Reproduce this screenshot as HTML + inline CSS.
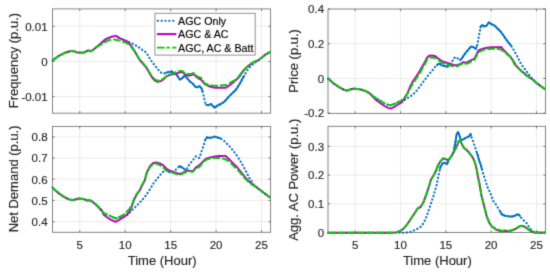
<!DOCTYPE html>
<html><head><meta charset="utf-8"><title>Figure</title>
<style>html,body{margin:0;padding:0;background:#fff;width:550px;height:273px;overflow:hidden}svg{display:block}</style>
</head><body>
<svg width="550" height="273" viewBox="0 0 550 273">
<defs><filter id="sm" x="0" y="0" width="550" height="273" filterUnits="userSpaceOnUse" color-interpolation-filters="sRGB"><feConvolveMatrix order="3" kernelMatrix="1 6 1 6 36 6 1 6 1" divisor="64" edgeMode="duplicate"/></filter></defs>
<g filter="url(#sm)">
<rect width="550" height="273" fill="#fff"/>
<line x1="79.76" y1="8.9" x2="79.76" y2="113.2" stroke="#262626" stroke-opacity="0.11" stroke-width="0.8"/>
<line x1="125.20" y1="8.9" x2="125.20" y2="113.2" stroke="#262626" stroke-opacity="0.11" stroke-width="0.8"/>
<line x1="170.64" y1="8.9" x2="170.64" y2="113.2" stroke="#262626" stroke-opacity="0.11" stroke-width="0.8"/>
<line x1="216.08" y1="8.9" x2="216.08" y2="113.2" stroke="#262626" stroke-opacity="0.11" stroke-width="0.8"/>
<line x1="261.51" y1="8.9" x2="261.51" y2="113.2" stroke="#262626" stroke-opacity="0.11" stroke-width="0.8"/>
<line x1="52.5" y1="26.2" x2="270.6" y2="26.2" stroke="#262626" stroke-opacity="0.11" stroke-width="0.8"/>
<line x1="52.5" y1="61.5" x2="270.6" y2="61.5" stroke="#262626" stroke-opacity="0.11" stroke-width="0.8"/>
<line x1="52.5" y1="96.6" x2="270.6" y2="96.6" stroke="#262626" stroke-opacity="0.11" stroke-width="0.8"/>
<line x1="79.76" y1="113.2" x2="79.76" y2="111.0" stroke="#262626" stroke-opacity="0.62" stroke-width="0.9"/>
<line x1="79.76" y1="8.9" x2="79.76" y2="11.100000000000001" stroke="#262626" stroke-opacity="0.62" stroke-width="0.9"/>
<line x1="125.20" y1="113.2" x2="125.20" y2="111.0" stroke="#262626" stroke-opacity="0.62" stroke-width="0.9"/>
<line x1="125.20" y1="8.9" x2="125.20" y2="11.100000000000001" stroke="#262626" stroke-opacity="0.62" stroke-width="0.9"/>
<line x1="170.64" y1="113.2" x2="170.64" y2="111.0" stroke="#262626" stroke-opacity="0.62" stroke-width="0.9"/>
<line x1="170.64" y1="8.9" x2="170.64" y2="11.100000000000001" stroke="#262626" stroke-opacity="0.62" stroke-width="0.9"/>
<line x1="216.08" y1="113.2" x2="216.08" y2="111.0" stroke="#262626" stroke-opacity="0.62" stroke-width="0.9"/>
<line x1="216.08" y1="8.9" x2="216.08" y2="11.100000000000001" stroke="#262626" stroke-opacity="0.62" stroke-width="0.9"/>
<line x1="261.51" y1="113.2" x2="261.51" y2="111.0" stroke="#262626" stroke-opacity="0.62" stroke-width="0.9"/>
<line x1="261.51" y1="8.9" x2="261.51" y2="11.100000000000001" stroke="#262626" stroke-opacity="0.62" stroke-width="0.9"/>
<line x1="52.5" y1="26.2" x2="54.7" y2="26.2" stroke="#262626" stroke-opacity="0.62" stroke-width="0.9"/>
<line x1="270.6" y1="26.2" x2="268.40000000000003" y2="26.2" stroke="#262626" stroke-opacity="0.62" stroke-width="0.9"/>
<line x1="52.5" y1="61.5" x2="54.7" y2="61.5" stroke="#262626" stroke-opacity="0.62" stroke-width="0.9"/>
<line x1="270.6" y1="61.5" x2="268.40000000000003" y2="61.5" stroke="#262626" stroke-opacity="0.62" stroke-width="0.9"/>
<line x1="52.5" y1="96.6" x2="54.7" y2="96.6" stroke="#262626" stroke-opacity="0.62" stroke-width="0.9"/>
<line x1="270.6" y1="96.6" x2="268.40000000000003" y2="96.6" stroke="#262626" stroke-opacity="0.62" stroke-width="0.9"/>
<rect x="52.5" y="8.9" width="218.10" height="104.30" fill="none" stroke="#262626" stroke-opacity="0.62" stroke-width="0.9"/>
<path d="M52.5,60.6 L55.7,58.0 L59.5,55.5 L64.5,53.0 L68.2,51.8 L71.9,50.9 L74.4,51.4 L76.9,52.4 L80.6,52.7 L84.4,52.4 L88.1,50.5 L90.6,51.2 L93.1,49.9 L96.8,46.8 L100.6,43.7 L104.3,40.2 L108.0,38.2 L112.0,36.6 L114.5,36.1 L116.0,35.9 L119.6,38.1 L123.0,39.6 L126.6,41.1 L128.8,42.0 L130.6,42.6 L134.7,44.8 L138.7,47.2 L141.7,49.5 L144.8,51.2 L147.8,55.0 L150.8,60.3 L152.8,63.0 L154.8,65.3 L157.4,68.8 L160.0,71.8 L161.5,72.8 L163.6,73.7 L166.4,72.6 L169.1,71.9 L171.9,71.5 L174.1,73.2 L176.3,74.3 L178.5,77.6 L180.1,79.8 L182.3,78.1 L184.0,75.9 L186.2,77.0 L188.4,79.8 L190.5,82.0 L192.7,83.6 L194.9,86.4 L197.1,87.5 L199.7,86.0 L201.6,88.5 L203.5,94.7 L204.7,100.9 L206.0,104.6 L208.5,105.3 L210.9,104.0 L214.7,107.8 L217.8,105.3 L220.9,104.0 L224.6,101.5 L228.4,97.2 L232.1,93.4 L235.9,89.7 L239.6,84.1 L243.3,77.2 L246.5,71.5 L249.5,67.5 L252.0,65.0 L255.2,62.5 L259.0,59.8 L262.2,57.3 L265.5,54.7 L267.9,53.3 L270.5,51.9" fill="none" stroke="#0072BD" stroke-width="2.1" stroke-dasharray="0.3 3.45" stroke-linecap="round" stroke-linejoin="round"/>
<path d="M166.0,72.8 L166.4,72.6 L169.1,71.9 L171.9,71.5 L174.1,73.2 L176.3,74.3 L178.5,77.6 L180.1,79.8 L182.3,78.1 L184.0,75.9 L186.2,77.0 L188.4,79.8 L190.5,82.0 L192.7,83.6 L194.9,86.4 L197.1,87.5 L199.7,86.0 L201.6,88.5 L202.5,91.4" fill="none" stroke="#0072BD" stroke-width="1.9" stroke-linecap="round" stroke-linejoin="round"/>
<path d="M206.0,104.6 L208.5,105.3 L210.9,104.0 L214.7,107.8 L217.8,105.3 L220.9,104.0 L224.6,101.5 L228.4,97.2 L232.1,93.4 L235.9,89.7 L239.6,84.1 L243.3,77.2 L244.0,76.0" fill="none" stroke="#0072BD" stroke-width="1.9" stroke-linecap="round" stroke-linejoin="round"/>
<path d="M52.5,60.6 L55.7,58.0 L59.5,55.5 L64.5,53.0 L68.2,51.8 L71.9,50.9 L74.4,51.4 L76.9,52.4 L80.6,52.7 L84.4,52.4 L88.1,50.5 L90.6,51.2 L93.1,49.9 L96.8,46.8 L100.6,43.7 L104.3,40.2 L108.0,38.2 L112.0,36.6 L114.5,36.1 L116.0,35.9 L119.6,38.1 L123.0,39.6 L126.6,41.1 L128.8,43.0 L130.6,45.2 L132.7,48.0 L134.7,51.2 L136.7,54.8 L138.7,58.3 L140.7,61.0 L142.7,63.3 L144.8,65.8 L146.8,68.3 L148.8,72.0 L150.8,75.4 L152.8,78.5 L154.8,80.5 L157.6,81.8 L160.9,81.1 L163.6,79.2 L166.4,76.5 L169.7,74.8 L173.0,74.3 L176.3,73.7 L179.6,72.3 L182.3,72.1 L185.1,74.3 L187.3,75.4 L190.5,75.4 L193.8,74.1 L196.0,76.5 L198.0,78.2 L201.0,79.7 L204.7,84.1 L208.5,86.0 L212.2,87.2 L215.9,87.8 L220.9,87.8 L225.9,87.8 L229.6,85.3 L233.4,82.2 L237.1,79.1 L239.6,76.6 L242.8,71.5 L246.5,67.5 L250.5,64.2 L254.0,62.0 L258.2,60.3 L262.2,57.3 L265.5,54.5 L267.9,53.1 L270.5,51.9" fill="none" stroke="#C000C0" stroke-width="1.95" stroke-linejoin="round"/>
<path d="M52.5,60.6 L55.7,58.0 L59.5,55.5 L64.5,53.0 L68.2,51.8 L71.9,50.9 L74.4,51.4 L76.9,52.4 L80.6,52.7 L84.4,52.4 L88.1,50.5 L90.6,51.2 L93.1,49.9 L96.8,46.8 L100.6,44.8 L104.3,42.5 L108.0,40.6 L112.0,39.6 L114.5,39.6 L117.0,40.0 L119.6,40.6 L123.0,41.7 L126.6,43.0 L128.8,44.5 L130.6,46.3 L132.7,48.8 L134.7,51.8 L136.7,55.0 L138.7,58.3 L140.7,60.8 L142.7,63.0 L144.8,65.4 L146.8,67.8 L148.8,71.3 L150.8,74.5 L152.8,77.3 L154.8,79.5 L157.6,80.7 L160.9,80.1 L163.6,78.5 L166.4,76.2 L169.7,74.5 L173.0,73.6 L176.3,72.0 L179.6,71.0 L182.3,71.0 L185.1,73.2 L187.8,74.0 L190.5,74.1 L193.8,73.0 L197.1,76.5 L200.0,77.4 L201.5,78.2 L204.7,83.5 L208.5,84.7 L213.4,85.7 L218.4,85.7 L223.4,85.3 L227.1,85.0 L230.9,82.2 L234.6,80.4 L238.3,77.2 L242.8,71.0 L246.5,67.2 L250.5,64.0 L254.0,62.0 L258.2,60.3 L262.2,57.3 L265.5,54.5 L267.9,53.1 L270.5,51.9" fill="none" stroke="#00CC00" stroke-width="2.0" stroke-dasharray="7.6 2" stroke-linejoin="round"/>
<text x="47.6" y="30.5" text-anchor="end" font-family="'Liberation Sans', Arial, Helvetica, sans-serif" font-size="11.5" fill="#262626" stroke="#262626" stroke-width="0.15">0.01</text>
<text x="47.6" y="65.8" text-anchor="end" font-family="'Liberation Sans', Arial, Helvetica, sans-serif" font-size="11.5" fill="#262626" stroke="#262626" stroke-width="0.15">0</text>
<text x="47.6" y="100.9" text-anchor="end" font-family="'Liberation Sans', Arial, Helvetica, sans-serif" font-size="11.5" fill="#262626" stroke="#262626" stroke-width="0.15">-0.01</text>
<text transform="translate(18.0,60.6) rotate(-90)" x="0" y="0" text-anchor="middle" font-family="'Liberation Sans', Arial, Helvetica, sans-serif" font-size="13" fill="#262626" stroke="#262626" stroke-width="0.15">Frequency (p.u.)</text>
<line x1="79.76" y1="126.4" x2="79.76" y2="232.3" stroke="#262626" stroke-opacity="0.11" stroke-width="0.8"/>
<line x1="125.20" y1="126.4" x2="125.20" y2="232.3" stroke="#262626" stroke-opacity="0.11" stroke-width="0.8"/>
<line x1="170.64" y1="126.4" x2="170.64" y2="232.3" stroke="#262626" stroke-opacity="0.11" stroke-width="0.8"/>
<line x1="216.08" y1="126.4" x2="216.08" y2="232.3" stroke="#262626" stroke-opacity="0.11" stroke-width="0.8"/>
<line x1="261.51" y1="126.4" x2="261.51" y2="232.3" stroke="#262626" stroke-opacity="0.11" stroke-width="0.8"/>
<line x1="52.5" y1="136.8" x2="270.6" y2="136.8" stroke="#262626" stroke-opacity="0.11" stroke-width="0.8"/>
<line x1="52.5" y1="158.0" x2="270.6" y2="158.0" stroke="#262626" stroke-opacity="0.11" stroke-width="0.8"/>
<line x1="52.5" y1="179.2" x2="270.6" y2="179.2" stroke="#262626" stroke-opacity="0.11" stroke-width="0.8"/>
<line x1="52.5" y1="200.45" x2="270.6" y2="200.45" stroke="#262626" stroke-opacity="0.11" stroke-width="0.8"/>
<line x1="52.5" y1="221.7" x2="270.6" y2="221.7" stroke="#262626" stroke-opacity="0.11" stroke-width="0.8"/>
<line x1="79.76" y1="232.3" x2="79.76" y2="230.10000000000002" stroke="#262626" stroke-opacity="0.62" stroke-width="0.9"/>
<line x1="79.76" y1="126.4" x2="79.76" y2="128.6" stroke="#262626" stroke-opacity="0.62" stroke-width="0.9"/>
<line x1="125.20" y1="232.3" x2="125.20" y2="230.10000000000002" stroke="#262626" stroke-opacity="0.62" stroke-width="0.9"/>
<line x1="125.20" y1="126.4" x2="125.20" y2="128.6" stroke="#262626" stroke-opacity="0.62" stroke-width="0.9"/>
<line x1="170.64" y1="232.3" x2="170.64" y2="230.10000000000002" stroke="#262626" stroke-opacity="0.62" stroke-width="0.9"/>
<line x1="170.64" y1="126.4" x2="170.64" y2="128.6" stroke="#262626" stroke-opacity="0.62" stroke-width="0.9"/>
<line x1="216.08" y1="232.3" x2="216.08" y2="230.10000000000002" stroke="#262626" stroke-opacity="0.62" stroke-width="0.9"/>
<line x1="216.08" y1="126.4" x2="216.08" y2="128.6" stroke="#262626" stroke-opacity="0.62" stroke-width="0.9"/>
<line x1="261.51" y1="232.3" x2="261.51" y2="230.10000000000002" stroke="#262626" stroke-opacity="0.62" stroke-width="0.9"/>
<line x1="261.51" y1="126.4" x2="261.51" y2="128.6" stroke="#262626" stroke-opacity="0.62" stroke-width="0.9"/>
<line x1="52.5" y1="136.8" x2="54.7" y2="136.8" stroke="#262626" stroke-opacity="0.62" stroke-width="0.9"/>
<line x1="270.6" y1="136.8" x2="268.40000000000003" y2="136.8" stroke="#262626" stroke-opacity="0.62" stroke-width="0.9"/>
<line x1="52.5" y1="158.0" x2="54.7" y2="158.0" stroke="#262626" stroke-opacity="0.62" stroke-width="0.9"/>
<line x1="270.6" y1="158.0" x2="268.40000000000003" y2="158.0" stroke="#262626" stroke-opacity="0.62" stroke-width="0.9"/>
<line x1="52.5" y1="179.2" x2="54.7" y2="179.2" stroke="#262626" stroke-opacity="0.62" stroke-width="0.9"/>
<line x1="270.6" y1="179.2" x2="268.40000000000003" y2="179.2" stroke="#262626" stroke-opacity="0.62" stroke-width="0.9"/>
<line x1="52.5" y1="200.45" x2="54.7" y2="200.45" stroke="#262626" stroke-opacity="0.62" stroke-width="0.9"/>
<line x1="270.6" y1="200.45" x2="268.40000000000003" y2="200.45" stroke="#262626" stroke-opacity="0.62" stroke-width="0.9"/>
<line x1="52.5" y1="221.7" x2="54.7" y2="221.7" stroke="#262626" stroke-opacity="0.62" stroke-width="0.9"/>
<line x1="270.6" y1="221.7" x2="268.40000000000003" y2="221.7" stroke="#262626" stroke-opacity="0.62" stroke-width="0.9"/>
<rect x="52.5" y="126.4" width="218.10" height="105.90" fill="none" stroke="#262626" stroke-opacity="0.62" stroke-width="0.9"/>
<path d="M52.5,187.5 L55.3,190.2 L58.6,193.0 L61.9,195.4 L65.2,197.4 L68.5,199.0 L71.8,200.1 L75.1,199.4 L78.4,198.5 L81.7,198.7 L85.0,199.4 L87.2,200.5 L89.9,200.1 L92.7,201.8 L96.0,204.5 L98.2,206.9 L100.0,209.3 L103.7,213.0 L107.3,214.8 L111.0,216.3 L115.6,218.5 L118.3,217.8 L121.0,217.0 L123.8,216.6 L127.5,214.8 L131.1,211.1 L134.8,207.5 L138.5,203.8 L142.1,200.1 L145.8,195.6 L149.5,190.0 L153.2,183.8 L156.5,179.5 L159.8,175.5 L162.0,172.8 L164.5,170.5 L166.4,170.0 L169.7,172.6 L173.0,171.5 L176.3,169.3 L179.6,166.0 L182.9,168.0 L186.2,170.2 L188.4,166.0 L190.5,163.0 L192.7,160.5 L196.0,156.2 L199.3,158.0 L201.5,151.4 L203.7,145.5 L205.0,140.4 L207.0,137.3 L208.1,137.7 L211.4,137.7 L214.7,136.6 L218.0,137.7 L221.3,138.8 L224.6,141.3 L227.9,144.6 L231.1,148.1 L234.5,152.4 L237.8,157.0 L241.0,162.1 L244.0,167.5 L247.3,174.0 L250.6,180.0 L253.9,184.8 L256.1,186.6 L259.4,189.7 L263.8,192.9 L268.2,196.2 L270.5,197.8" fill="none" stroke="#0072BD" stroke-width="2.1" stroke-dasharray="0.3 3.45" stroke-linecap="round" stroke-linejoin="round"/>
<path d="M179.0,166.6 L179.6,166.0 L182.9,168.0 L184.0,168.7" fill="none" stroke="#0072BD" stroke-width="1.9" stroke-linecap="round" stroke-linejoin="round"/>
<path d="M205.5,139.6 L207.0,137.3 L208.1,137.7 L211.4,137.7 L214.7,136.6 L218.0,137.7 L221.0,138.7" fill="none" stroke="#0072BD" stroke-width="1.9" stroke-linecap="round" stroke-linejoin="round"/>
<path d="M52.5,187.7 L55.3,190.4 L58.6,193.2 L61.9,195.6 L65.2,197.6 L68.5,199.2 L71.8,200.3 L75.1,199.6 L78.4,198.7 L81.7,198.9 L85.0,199.6 L87.2,200.7 L89.9,200.3 L92.7,202.0 L96.0,204.7 L99.3,208.0 L101.5,209.7 L103.7,214.8 L107.3,217.5 L111.0,219.9 L115.6,221.8 L118.3,220.3 L122.0,218.1 L125.6,215.7 L129.3,212.1 L132.0,205.6 L133.9,200.1 L136.6,194.7 L139.4,191.0 L142.1,185.5 L144.9,180.0 L146.6,173.0 L149.9,166.3 L153.2,163.0 L156.5,162.5 L159.8,163.4 L163.1,165.2 L166.4,168.5 L169.7,170.7 L173.0,171.8 L176.3,172.9 L179.6,174.0 L182.9,172.9 L186.2,170.7 L189.5,170.7 L192.7,171.3 L196.0,167.4 L199.3,165.2 L202.6,161.9 L205.9,158.6 L210.3,157.5 L214.7,156.4 L219.1,155.9 L223.5,155.9 L225.3,155.8 L228.6,158.7 L233.0,163.1 L237.4,167.5 L241.8,173.0 L246.2,178.5 L250.6,182.9 L255.0,186.2 L259.4,189.5 L263.8,192.7 L268.2,196.0 L270.5,197.8" fill="none" stroke="#C000C0" stroke-width="1.95" stroke-linejoin="round"/>
<path d="M52.5,187.5 L55.3,190.2 L58.6,193.0 L61.9,195.4 L65.2,197.4 L68.5,199.0 L71.8,200.1 L75.1,199.4 L78.4,198.5 L81.7,198.7 L85.0,199.4 L87.2,200.5 L89.9,200.1 L92.7,201.8 L96.0,204.5 L98.2,206.9 L100.0,209.3 L103.7,213.0 L107.3,214.8 L111.0,216.3 L115.6,218.5 L118.3,217.5 L122.0,215.7 L125.6,213.0 L129.3,209.3 L132.0,204.5 L134.1,198.5 L136.6,194.2 L139.4,190.5 L142.1,185.0 L144.9,179.5 L146.6,173.5 L149.9,167.0 L153.2,164.0 L156.5,163.4 L159.8,165.2 L163.1,167.4 L166.4,170.7 L169.7,171.8 L173.0,172.9 L176.3,174.0 L179.6,175.1 L182.9,173.5 L186.2,171.8 L189.5,171.3 L192.7,171.8 L196.0,168.5 L199.3,166.9 L202.6,163.0 L205.9,159.7 L210.3,158.6 L214.7,158.1 L219.1,157.9 L222.0,158.2 L226.4,159.8 L230.8,163.1 L235.2,167.5 L239.6,171.9 L244.0,177.4 L248.4,181.8 L252.8,185.1 L255.0,186.2 L259.4,189.5 L263.8,192.7 L268.2,196.0 L270.5,197.8" fill="none" stroke="#00CC00" stroke-width="2.0" stroke-dasharray="7.6 2" stroke-linejoin="round"/>
<text x="47.6" y="141.2" text-anchor="end" font-family="'Liberation Sans', Arial, Helvetica, sans-serif" font-size="11.5" fill="#262626" stroke="#262626" stroke-width="0.15">0.8</text>
<text x="47.6" y="162.3" text-anchor="end" font-family="'Liberation Sans', Arial, Helvetica, sans-serif" font-size="11.5" fill="#262626" stroke="#262626" stroke-width="0.15">0.7</text>
<text x="47.6" y="183.5" text-anchor="end" font-family="'Liberation Sans', Arial, Helvetica, sans-serif" font-size="11.5" fill="#262626" stroke="#262626" stroke-width="0.15">0.6</text>
<text x="47.6" y="204.8" text-anchor="end" font-family="'Liberation Sans', Arial, Helvetica, sans-serif" font-size="11.5" fill="#262626" stroke="#262626" stroke-width="0.15">0.5</text>
<text x="47.6" y="226.0" text-anchor="end" font-family="'Liberation Sans', Arial, Helvetica, sans-serif" font-size="11.5" fill="#262626" stroke="#262626" stroke-width="0.15">0.4</text>
<text x="79.76" y="248.5" text-anchor="middle" font-family="'Liberation Sans', Arial, Helvetica, sans-serif" font-size="11.5" fill="#262626" stroke="#262626" stroke-width="0.15">5</text>
<text x="125.20" y="248.5" text-anchor="middle" font-family="'Liberation Sans', Arial, Helvetica, sans-serif" font-size="11.5" fill="#262626" stroke="#262626" stroke-width="0.15">10</text>
<text x="170.64" y="248.5" text-anchor="middle" font-family="'Liberation Sans', Arial, Helvetica, sans-serif" font-size="11.5" fill="#262626" stroke="#262626" stroke-width="0.15">15</text>
<text x="216.08" y="248.5" text-anchor="middle" font-family="'Liberation Sans', Arial, Helvetica, sans-serif" font-size="11.5" fill="#262626" stroke="#262626" stroke-width="0.15">20</text>
<text x="261.51" y="248.5" text-anchor="middle" font-family="'Liberation Sans', Arial, Helvetica, sans-serif" font-size="11.5" fill="#262626" stroke="#262626" stroke-width="0.15">25</text>
<text x="162.15" y="264.9" text-anchor="middle" font-family="'Liberation Sans', Arial, Helvetica, sans-serif" font-size="13" fill="#262626" stroke="#262626" stroke-width="0.15">Time (Hour)</text>
<text transform="translate(18.0,178.9) rotate(-90)" x="0" y="0" text-anchor="middle" font-family="'Liberation Sans', Arial, Helvetica, sans-serif" font-size="13" fill="#262626" stroke="#262626" stroke-width="0.15">Net Demand (p.u.)</text>
<line x1="355.19" y1="9.0" x2="355.19" y2="113.4" stroke="#262626" stroke-opacity="0.11" stroke-width="0.8"/>
<line x1="400.50" y1="9.0" x2="400.50" y2="113.4" stroke="#262626" stroke-opacity="0.11" stroke-width="0.8"/>
<line x1="445.81" y1="9.0" x2="445.81" y2="113.4" stroke="#262626" stroke-opacity="0.11" stroke-width="0.8"/>
<line x1="491.12" y1="9.0" x2="491.12" y2="113.4" stroke="#262626" stroke-opacity="0.11" stroke-width="0.8"/>
<line x1="536.44" y1="9.0" x2="536.44" y2="113.4" stroke="#262626" stroke-opacity="0.11" stroke-width="0.8"/>
<line x1="328.0" y1="43.7" x2="545.5" y2="43.7" stroke="#262626" stroke-opacity="0.11" stroke-width="0.8"/>
<line x1="328.0" y1="78.4" x2="545.5" y2="78.4" stroke="#262626" stroke-opacity="0.11" stroke-width="0.8"/>
<line x1="355.19" y1="113.4" x2="355.19" y2="111.2" stroke="#262626" stroke-opacity="0.62" stroke-width="0.9"/>
<line x1="355.19" y1="9.0" x2="355.19" y2="11.2" stroke="#262626" stroke-opacity="0.62" stroke-width="0.9"/>
<line x1="400.50" y1="113.4" x2="400.50" y2="111.2" stroke="#262626" stroke-opacity="0.62" stroke-width="0.9"/>
<line x1="400.50" y1="9.0" x2="400.50" y2="11.2" stroke="#262626" stroke-opacity="0.62" stroke-width="0.9"/>
<line x1="445.81" y1="113.4" x2="445.81" y2="111.2" stroke="#262626" stroke-opacity="0.62" stroke-width="0.9"/>
<line x1="445.81" y1="9.0" x2="445.81" y2="11.2" stroke="#262626" stroke-opacity="0.62" stroke-width="0.9"/>
<line x1="491.12" y1="113.4" x2="491.12" y2="111.2" stroke="#262626" stroke-opacity="0.62" stroke-width="0.9"/>
<line x1="491.12" y1="9.0" x2="491.12" y2="11.2" stroke="#262626" stroke-opacity="0.62" stroke-width="0.9"/>
<line x1="536.44" y1="113.4" x2="536.44" y2="111.2" stroke="#262626" stroke-opacity="0.62" stroke-width="0.9"/>
<line x1="536.44" y1="9.0" x2="536.44" y2="11.2" stroke="#262626" stroke-opacity="0.62" stroke-width="0.9"/>
<line x1="328.0" y1="9.0" x2="330.2" y2="9.0" stroke="#262626" stroke-opacity="0.62" stroke-width="0.9"/>
<line x1="545.5" y1="9.0" x2="543.3" y2="9.0" stroke="#262626" stroke-opacity="0.62" stroke-width="0.9"/>
<line x1="328.0" y1="43.7" x2="330.2" y2="43.7" stroke="#262626" stroke-opacity="0.62" stroke-width="0.9"/>
<line x1="545.5" y1="43.7" x2="543.3" y2="43.7" stroke="#262626" stroke-opacity="0.62" stroke-width="0.9"/>
<line x1="328.0" y1="78.4" x2="330.2" y2="78.4" stroke="#262626" stroke-opacity="0.62" stroke-width="0.9"/>
<line x1="545.5" y1="78.4" x2="543.3" y2="78.4" stroke="#262626" stroke-opacity="0.62" stroke-width="0.9"/>
<line x1="328.0" y1="113.1" x2="330.2" y2="113.1" stroke="#262626" stroke-opacity="0.62" stroke-width="0.9"/>
<line x1="545.5" y1="113.1" x2="543.3" y2="113.1" stroke="#262626" stroke-opacity="0.62" stroke-width="0.9"/>
<rect x="328.0" y="9.0" width="217.50" height="104.40" fill="none" stroke="#262626" stroke-opacity="0.62" stroke-width="0.9"/>
<path d="M328.0,78.6 L330.4,80.6 L333.7,83.5 L337.0,85.7 L340.3,87.9 L343.6,89.6 L346.9,90.5 L349.1,90.1 L351.3,89.0 L354.6,88.7 L357.9,89.0 L361.2,89.6 L363.9,90.5 L366.3,91.3 L369.4,93.2 L372.4,95.6 L375.4,97.8 L378.4,99.6 L381.5,101.5 L384.5,103.3 L387.5,104.6 L390.5,105.3 L393.5,104.3 L397.6,102.3 L401.6,101.8 L404.6,100.0 L407.5,98.0 L410.1,96.6 L413.0,94.5 L416.0,91.5 L419.0,87.5 L422.0,83.5 L425.0,79.5 L428.0,75.5 L431.0,72.0 L433.4,69.2 L435.7,66.0 L438.0,64.3 L440.0,63.5 L441.5,65.3 L444.4,66.0 L447.4,66.7 L451.3,63.2 L453.3,59.2 L455.3,57.1 L457.3,58.1 L459.4,60.2 L461.4,59.2 L463.4,56.1 L465.4,53.1 L468.0,50.1 L470.9,46.5 L473.3,47.1 L475.8,48.8 L477.4,44.7 L479.1,34.8 L480.7,26.5 L482.4,24.9 L484.0,26.5 L486.5,25.7 L488.9,22.4 L491.4,24.1 L494.7,25.7 L498.0,29.0 L500.5,31.5 L503.0,34.8 L505.6,38.6 L508.2,42.2 L511.2,45.8 L514.5,51.2 L517.8,57.5 L521.4,64.6 L524.7,69.0 L528.0,73.4 L531.3,77.7 L536.5,83.0 L540.9,86.3 L545.4,89.5" fill="none" stroke="#0072BD" stroke-width="2.1" stroke-dasharray="0.3 3.45" stroke-linecap="round" stroke-linejoin="round"/>
<path d="M437.0,65.0 L438.0,64.3 L440.0,63.5 L441.5,65.3 L444.4,66.0 L447.4,66.7 L450.0,64.4" fill="none" stroke="#0072BD" stroke-width="1.9" stroke-linecap="round" stroke-linejoin="round"/>
<path d="M460.0,59.9 L461.4,59.2 L463.4,56.1 L465.4,53.1 L468.0,50.1 L470.9,46.5 L473.3,47.1 L475.8,48.8 L476.5,47.0" fill="none" stroke="#0072BD" stroke-width="1.9" stroke-linecap="round" stroke-linejoin="round"/>
<path d="M480.5,27.5 L480.7,26.5 L482.4,24.9 L484.0,26.5 L486.5,25.7 L488.9,22.4 L491.4,24.1 L494.7,25.7 L498.0,29.0 L500.5,31.5 L503.0,34.8 L505.6,38.6 L508.2,42.2 L511.0,45.6" fill="none" stroke="#0072BD" stroke-width="1.9" stroke-linecap="round" stroke-linejoin="round"/>
<path d="M328.0,78.6 L330.4,80.6 L333.7,83.5 L337.0,85.7 L340.3,87.9 L343.6,89.6 L346.9,90.5 L349.1,90.1 L351.3,89.0 L354.6,88.7 L357.9,89.0 L361.2,89.6 L363.9,90.5 L366.3,91.3 L369.4,93.2 L372.4,96.4 L375.4,99.4 L378.4,101.8 L381.5,104.0 L384.5,106.0 L387.5,107.6 L390.5,108.6 L393.5,107.4 L397.6,104.8 L401.6,102.3 L404.6,98.3 L407.6,93.0 L410.0,86.8 L412.9,81.4 L415.9,77.0 L418.8,72.6 L421.7,67.5 L424.7,62.3 L426.8,57.9 L429.0,55.7 L432.0,55.5 L435.6,56.3 L438.6,58.7 L441.5,60.9 L445.2,62.3 L448.3,63.2 L451.3,64.2 L454.3,65.2 L457.3,65.2 L460.4,63.8 L463.4,62.2 L466.4,62.6 L469.4,61.2 L472.5,59.5 L474.5,58.5 L476.5,54.5 L478.5,50.5 L482.7,48.7 L487.1,47.8 L491.5,47.2 L495.9,47.2 L498.5,47.2 L501.3,47.0 L503.5,49.9 L506.8,53.2 L510.1,56.5 L513.4,60.9 L516.7,66.4 L520.0,69.7 L523.3,72.5 L526.6,75.2 L529.9,77.8 L533.2,80.0 L536.5,82.9 L540.9,86.2 L545.4,89.5" fill="none" stroke="#C000C0" stroke-width="1.95" stroke-linejoin="round"/>
<path d="M328.0,78.6 L330.4,80.6 L333.7,83.5 L337.0,85.7 L340.3,87.9 L343.6,89.6 L346.9,90.5 L349.1,90.1 L351.3,89.0 L354.6,88.7 L357.9,89.0 L361.2,89.6 L363.9,90.5 L366.3,91.3 L369.4,93.2 L372.4,95.6 L375.4,97.8 L378.4,99.6 L381.5,101.5 L384.5,103.3 L387.5,104.6 L390.5,105.3 L393.5,104.3 L397.6,102.3 L401.6,100.3 L404.6,97.3 L407.6,93.5 L410.0,88.5 L412.9,83.6 L415.9,79.0 L418.8,74.8 L421.7,69.5 L424.7,64.5 L426.8,60.0 L429.0,57.6 L432.0,57.4 L435.6,57.9 L438.6,60.2 L441.5,62.3 L445.2,64.3 L448.3,64.6 L451.3,65.8 L454.3,66.6 L457.3,66.2 L460.4,64.6 L463.4,63.2 L466.4,63.8 L469.4,62.6 L472.5,60.8 L474.5,59.8 L476.5,56.0 L478.5,52.3 L482.7,50.1 L487.1,49.2 L491.5,48.7 L496.0,48.9 L500.3,49.2 L504.6,52.1 L507.9,54.9 L511.2,57.6 L514.5,64.2 L517.8,67.5 L521.1,70.8 L524.4,74.1 L527.7,76.3 L529.9,77.8 L533.2,80.0 L536.5,82.9 L540.9,86.2 L545.4,89.5" fill="none" stroke="#00CC00" stroke-width="2.0" stroke-dasharray="7.6 2" stroke-linejoin="round"/>
<text x="324.1" y="13.3" text-anchor="end" font-family="'Liberation Sans', Arial, Helvetica, sans-serif" font-size="11.5" fill="#262626" stroke="#262626" stroke-width="0.15">0.4</text>
<text x="324.1" y="48.1" text-anchor="end" font-family="'Liberation Sans', Arial, Helvetica, sans-serif" font-size="11.5" fill="#262626" stroke="#262626" stroke-width="0.15">0.2</text>
<text x="324.1" y="82.8" text-anchor="end" font-family="'Liberation Sans', Arial, Helvetica, sans-serif" font-size="11.5" fill="#262626" stroke="#262626" stroke-width="0.15">0</text>
<text x="324.1" y="117.4" text-anchor="end" font-family="'Liberation Sans', Arial, Helvetica, sans-serif" font-size="11.5" fill="#262626" stroke="#262626" stroke-width="0.15">-0.2</text>
<text transform="translate(297.6,60.9) rotate(-90)" x="0" y="0" text-anchor="middle" font-family="'Liberation Sans', Arial, Helvetica, sans-serif" font-size="13" fill="#262626" stroke="#262626" stroke-width="0.15">Price (p.u.)</text>
<line x1="355.19" y1="126.3" x2="355.19" y2="232.5" stroke="#262626" stroke-opacity="0.11" stroke-width="0.8"/>
<line x1="400.50" y1="126.3" x2="400.50" y2="232.5" stroke="#262626" stroke-opacity="0.11" stroke-width="0.8"/>
<line x1="445.81" y1="126.3" x2="445.81" y2="232.5" stroke="#262626" stroke-opacity="0.11" stroke-width="0.8"/>
<line x1="491.12" y1="126.3" x2="491.12" y2="232.5" stroke="#262626" stroke-opacity="0.11" stroke-width="0.8"/>
<line x1="536.44" y1="126.3" x2="536.44" y2="232.5" stroke="#262626" stroke-opacity="0.11" stroke-width="0.8"/>
<line x1="328.0" y1="146.4" x2="545.5" y2="146.4" stroke="#262626" stroke-opacity="0.11" stroke-width="0.8"/>
<line x1="328.0" y1="175.1" x2="545.5" y2="175.1" stroke="#262626" stroke-opacity="0.11" stroke-width="0.8"/>
<line x1="328.0" y1="203.8" x2="545.5" y2="203.8" stroke="#262626" stroke-opacity="0.11" stroke-width="0.8"/>
<line x1="355.19" y1="232.5" x2="355.19" y2="230.3" stroke="#262626" stroke-opacity="0.62" stroke-width="0.9"/>
<line x1="355.19" y1="126.3" x2="355.19" y2="128.5" stroke="#262626" stroke-opacity="0.62" stroke-width="0.9"/>
<line x1="400.50" y1="232.5" x2="400.50" y2="230.3" stroke="#262626" stroke-opacity="0.62" stroke-width="0.9"/>
<line x1="400.50" y1="126.3" x2="400.50" y2="128.5" stroke="#262626" stroke-opacity="0.62" stroke-width="0.9"/>
<line x1="445.81" y1="232.5" x2="445.81" y2="230.3" stroke="#262626" stroke-opacity="0.62" stroke-width="0.9"/>
<line x1="445.81" y1="126.3" x2="445.81" y2="128.5" stroke="#262626" stroke-opacity="0.62" stroke-width="0.9"/>
<line x1="491.12" y1="232.5" x2="491.12" y2="230.3" stroke="#262626" stroke-opacity="0.62" stroke-width="0.9"/>
<line x1="491.12" y1="126.3" x2="491.12" y2="128.5" stroke="#262626" stroke-opacity="0.62" stroke-width="0.9"/>
<line x1="536.44" y1="232.5" x2="536.44" y2="230.3" stroke="#262626" stroke-opacity="0.62" stroke-width="0.9"/>
<line x1="536.44" y1="126.3" x2="536.44" y2="128.5" stroke="#262626" stroke-opacity="0.62" stroke-width="0.9"/>
<line x1="328.0" y1="146.4" x2="330.2" y2="146.4" stroke="#262626" stroke-opacity="0.62" stroke-width="0.9"/>
<line x1="545.5" y1="146.4" x2="543.3" y2="146.4" stroke="#262626" stroke-opacity="0.62" stroke-width="0.9"/>
<line x1="328.0" y1="175.1" x2="330.2" y2="175.1" stroke="#262626" stroke-opacity="0.62" stroke-width="0.9"/>
<line x1="545.5" y1="175.1" x2="543.3" y2="175.1" stroke="#262626" stroke-opacity="0.62" stroke-width="0.9"/>
<line x1="328.0" y1="203.8" x2="330.2" y2="203.8" stroke="#262626" stroke-opacity="0.62" stroke-width="0.9"/>
<line x1="545.5" y1="203.8" x2="543.3" y2="203.8" stroke="#262626" stroke-opacity="0.62" stroke-width="0.9"/>
<line x1="328.0" y1="232.5" x2="330.2" y2="232.5" stroke="#262626" stroke-opacity="0.62" stroke-width="0.9"/>
<line x1="545.5" y1="232.5" x2="543.3" y2="232.5" stroke="#262626" stroke-opacity="0.62" stroke-width="0.9"/>
<rect x="328.0" y="126.3" width="217.50" height="106.20" fill="none" stroke="#262626" stroke-opacity="0.62" stroke-width="0.9"/>
<path d="M328.0,232.7 L404.3,232.7 L406.0,232.6 L411.5,231.7 L417.0,229.0 L421.6,226.2 L424.3,221.6 L427.1,215.2 L429.8,207.0 L431.6,201.5 L433.5,196.0 L435.3,189.6 L436.8,184.5 L437.7,179.6 L438.9,173.7 L440.4,167.1 L442.6,163.4 L444.8,162.7 L447.0,164.2 L449.2,159.0 L451.4,156.1 L453.6,151.7 L455.0,144.4 L455.8,140.0 L456.5,134.8 L458.0,131.9 L459.5,135.5 L460.9,139.9 L462.4,139.9 L464.6,138.5 L466.8,137.4 L469.0,136.3 L470.5,134.1 L471.9,138.5 L473.4,142.1 L474.9,146.5 L476.3,150.9 L477.8,155.3 L479.3,161.2 L480.7,164.4 L482.8,172.7 L485.4,180.4 L487.9,188.1 L490.5,193.2 L493.1,200.9 L496.0,204.6 L498.0,207.9 L500.0,211.2 L501.9,214.5 L504.6,215.6 L507.2,216.1 L509.9,216.5 L512.5,216.5 L515.1,215.6 L517.8,214.2 L519.7,215.6 L521.7,218.5 L523.7,220.4 L525.7,222.2 L527.7,224.4 L529.0,227.0 L531.0,229.7 L532.9,231.4 L534.9,232.3 L545.5,232.7" fill="none" stroke="#0072BD" stroke-width="2.1" stroke-dasharray="0.3 3.45" stroke-linecap="round" stroke-linejoin="round"/>
<path d="M440.0,168.9 L440.4,167.1 L442.6,163.4 L444.8,162.7 L447.0,164.2 L449.0,159.5" fill="none" stroke="#0072BD" stroke-width="1.9" stroke-linecap="round" stroke-linejoin="round"/>
<path d="M454.0,149.6 L455.0,144.4 L455.8,140.0 L456.5,134.8 L458.0,131.9 L459.5,135.5 L460.9,139.9 L462.4,139.9 L464.6,138.5 L466.8,137.4 L469.0,136.3 L470.5,134.1 L471.0,135.7" fill="none" stroke="#0072BD" stroke-width="1.9" stroke-linecap="round" stroke-linejoin="round"/>
<path d="M477.0,153.0 L477.8,155.3 L479.3,161.2 L480.7,164.4 L482.0,169.5" fill="none" stroke="#0072BD" stroke-width="1.9" stroke-linecap="round" stroke-linejoin="round"/>
<path d="M500.0,211.2 L501.9,214.5 L504.6,215.6 L507.2,216.1 L509.9,216.5 L512.5,216.5 L515.1,215.6 L517.8,214.2 L519.7,215.6 L520.0,216.0" fill="none" stroke="#0072BD" stroke-width="1.9" stroke-linecap="round" stroke-linejoin="round"/>
<path d="M328.0,232.7 L390.0,232.7 L396.0,232.4 L400.5,231.0 L404.2,228.0 L407.8,223.5 L411.5,218.0 L415.1,212.5 L417.9,208.3 L420.6,207.0 L423.4,202.4 L426.1,195.1 L428.9,186.8 L430.9,179.8 L433.8,175.2 L436.0,170.8 L438.2,164.9 L440.4,161.4 L443.3,158.5 L445.5,159.2 L447.7,160.0 L449.9,158.5 L452.1,154.9 L454.3,151.2 L456.5,146.8 L458.7,141.7 L460.0,140.0 L460.9,142.1 L462.4,145.1 L463.9,148.0 L466.1,149.5 L468.3,151.7 L470.5,154.6 L472.7,157.5 L474.4,161.2 L475.6,164.9 L476.8,170.0 L478.2,178.0 L479.6,184.3 L481.5,195.8 L484.1,206.0 L486.7,216.3 L489.2,222.7 L491.8,226.5 L495.6,229.3 L498.6,230.6 L501.3,231.4 L505.2,230.8 L508.5,231.3 L511.8,230.5 L515.1,229.2 L518.4,227.2 L521.1,225.9 L523.7,226.3 L526.3,227.9 L529.0,229.9 L531.6,231.5 L534.3,232.6 L545.5,232.7" fill="none" stroke="#C000C0" stroke-width="1.95" stroke-linejoin="round"/>
<path d="M328.0,232.7 L390.0,232.7 L396.0,232.4 L400.5,230.8 L404.2,227.8 L407.8,223.3 L411.5,217.8 L415.1,212.3 L417.9,208.1 L420.6,206.8 L423.4,202.2 L426.1,194.9 L428.9,186.6 L430.9,179.6 L433.8,175.0 L436.0,170.6 L438.2,164.7 L440.4,161.2 L443.3,158.3 L445.5,159.0 L447.7,159.8 L449.9,158.3 L452.1,154.7 L454.3,151.0 L456.5,146.6 L458.7,141.5 L460.0,139.8 L460.9,141.9 L462.4,144.9 L463.9,147.8 L466.1,149.3 L468.3,151.5 L470.5,154.4 L472.7,157.3 L474.4,161.0 L475.6,164.7 L476.8,169.8 L478.2,177.8 L479.6,184.1 L481.5,195.6 L484.1,205.8 L486.7,216.1 L489.2,222.5 L491.8,226.3 L495.6,228.6 L498.6,229.7 L501.9,231.0 L505.2,230.3 L508.5,231.0 L511.8,230.3 L515.1,229.0 L518.4,227.0 L521.1,225.7 L523.7,226.1 L526.3,227.7 L529.0,229.7 L531.6,231.4 L534.3,232.6 L545.5,232.7" fill="none" stroke="#00CC00" stroke-width="2.0" stroke-dasharray="7.6 2" stroke-linejoin="round"/>
<text x="324.1" y="150.8" text-anchor="end" font-family="'Liberation Sans', Arial, Helvetica, sans-serif" font-size="11.5" fill="#262626" stroke="#262626" stroke-width="0.15">0.3</text>
<text x="324.1" y="179.4" text-anchor="end" font-family="'Liberation Sans', Arial, Helvetica, sans-serif" font-size="11.5" fill="#262626" stroke="#262626" stroke-width="0.15">0.2</text>
<text x="324.1" y="208.2" text-anchor="end" font-family="'Liberation Sans', Arial, Helvetica, sans-serif" font-size="11.5" fill="#262626" stroke="#262626" stroke-width="0.15">0.1</text>
<text x="324.1" y="236.8" text-anchor="end" font-family="'Liberation Sans', Arial, Helvetica, sans-serif" font-size="11.5" fill="#262626" stroke="#262626" stroke-width="0.15">0</text>
<text x="355.19" y="248.5" text-anchor="middle" font-family="'Liberation Sans', Arial, Helvetica, sans-serif" font-size="11.5" fill="#262626" stroke="#262626" stroke-width="0.15">5</text>
<text x="400.50" y="248.5" text-anchor="middle" font-family="'Liberation Sans', Arial, Helvetica, sans-serif" font-size="11.5" fill="#262626" stroke="#262626" stroke-width="0.15">10</text>
<text x="445.81" y="248.5" text-anchor="middle" font-family="'Liberation Sans', Arial, Helvetica, sans-serif" font-size="11.5" fill="#262626" stroke="#262626" stroke-width="0.15">15</text>
<text x="491.12" y="248.5" text-anchor="middle" font-family="'Liberation Sans', Arial, Helvetica, sans-serif" font-size="11.5" fill="#262626" stroke="#262626" stroke-width="0.15">20</text>
<text x="536.44" y="248.5" text-anchor="middle" font-family="'Liberation Sans', Arial, Helvetica, sans-serif" font-size="11.5" fill="#262626" stroke="#262626" stroke-width="0.15">25</text>
<text x="437.35" y="264.9" text-anchor="middle" font-family="'Liberation Sans', Arial, Helvetica, sans-serif" font-size="13" fill="#262626" stroke="#262626" stroke-width="0.15">Time (Hour)</text>
<text transform="translate(297.6,179.8) rotate(-90)" x="0" y="0" text-anchor="middle" font-family="'Liberation Sans', Arial, Helvetica, sans-serif" font-size="13" fill="#262626" stroke="#262626" stroke-width="0.15">Agg. AC Power (p.u.)</text>
<rect x="154.9" y="13.3" width="100.3" height="41.8" fill="#fff" stroke="#262626" stroke-opacity="0.55" stroke-width="0.9"/>
<line x1="157.7" y1="20.7" x2="174.5" y2="20.7" stroke="#0072BD" stroke-width="2.1" stroke-dasharray="0.3 3.55" stroke-linecap="round"/>
<text x="178.0" y="24.9" font-family="'Liberation Sans', Arial, Helvetica, sans-serif" font-size="10.7" fill="#000" stroke="#000" stroke-width="0.15">AGC Only</text>
<line x1="156.9" y1="34.1" x2="176.4" y2="34.1" stroke="#C000C0" stroke-width="2.1"/>
<text x="178.0" y="38.3" font-family="'Liberation Sans', Arial, Helvetica, sans-serif" font-size="10.7" fill="#000" stroke="#000" stroke-width="0.15">AGC &amp; AC</text>
<line x1="156.9" y1="47.6" x2="176.4" y2="47.6" stroke="#00CC00" stroke-width="1.9" stroke-dasharray="7.8 1.7 3.4 2.4"/>
<text x="178.0" y="51.8" font-family="'Liberation Sans', Arial, Helvetica, sans-serif" font-size="10.7" fill="#000" stroke="#000" stroke-width="0.15">AGC, AC &amp; Batt</text>
</g>
</svg>
</body></html>
